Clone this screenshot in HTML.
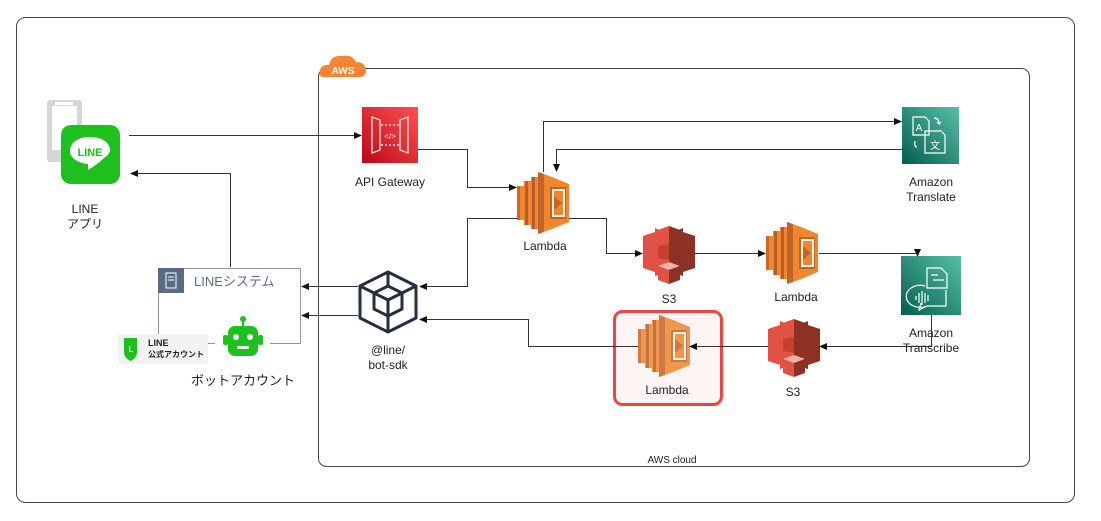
<!DOCTYPE html>
<html><head><meta charset="utf-8"><style>
html,body{margin:0;padding:0;background:#fff;}
svg{display:block;}
text{font-family:"Liberation Sans","Noto Sans CJK JP",sans-serif;font-size:12px;fill:#222;}
</style></head><body>
<svg width="1101" height="521" viewBox="0 0 1101 521" xmlns="http://www.w3.org/2000/svg">
<defs>
<marker id="a" markerWidth="8" markerHeight="8" refX="7" refY="4" orient="auto" markerUnits="userSpaceOnUse"><path d="M0,0.5 L8,4 L0,7.5z" fill="#111"/></marker>
<linearGradient id="gr" x1="0" y1="1" x2="1" y2="0"><stop offset="0" stop-color="#bd0816"/><stop offset="1" stop-color="#ff5252"/></linearGradient>
<linearGradient id="gg" x1="0" y1="1" x2="1" y2="0"><stop offset="0" stop-color="#055f4e"/><stop offset="1" stop-color="#56c0a7"/></linearGradient>
<g id="lam">
<rect x="0" y="14" width="8" height="34" fill="#f0862e"/>
<rect x="0" y="14" width="3" height="34" fill="#c8692b"/>
<rect x="7" y="9" width="7" height="44" fill="#f0862e"/>
<rect x="8" y="9" width="3" height="44" fill="#b35f27"/>
<rect x="14" y="5" width="7" height="52" fill="#f0862e"/>
<rect x="15" y="5" width="3" height="52" fill="#b35f27"/>
<polygon points="21,0 35,5 52,12 52,50 35,57 21,62" fill="#f0862e"/>
<polygon points="21,0 27,2 27,60 21,62" fill="#c0652a"/>
<rect x="33" y="15" width="16" height="32" fill="#c0652a"/>
<rect x="35" y="17" width="13" height="28" fill="#fff3e6"/>
<rect x="37" y="19" width="9" height="24" fill="#f0862e"/>
<polygon points="37,24 45,31 37,38" fill="#c0652a"/>
</g>
<g id="s3">
<polygon points="0,14 12,10 12,50 0,46" fill="#e05243"/>
<polygon points="40,10 52,14 52,46 40,50" fill="#8c3123"/>
<polygon points="12,6 26,12 26,50 12,54" fill="#e05243"/>
<polygon points="26,12 40,6 40,54 26,50" fill="#8c3123"/>
<polygon points="15,8 26,4 26,22 15,18" fill="#e05243"/>
<polygon points="26,4 37,8 37,18 26,22" fill="#8c3123"/>
<polygon points="15,24 26,22 26,38 15,36" fill="#c7402f"/>
<polygon points="26,22 37,24 37,36 26,38" fill="#8c3123"/>
<polygon points="15,44 26,40 37,44 26,48" fill="#f2b0a9"/>
<polygon points="15,44 26,48 26,62 15,58" fill="#e05243"/>
<polygon points="26,48 37,44 37,58 26,62" fill="#8c3123"/>
</g>
</defs>

<rect x="16.5" y="17.5" width="1058" height="485" rx="9" fill="none" stroke="#444" stroke-width="1"/>
<rect x="318.5" y="68.5" width="711" height="398" rx="8" fill="none" stroke="#444" stroke-width="1"/>
<path d="M324,77 Q318,77 320,70 Q322,64 329,65 Q331,55 342,56 Q352,54 356,62 Q365,62 366,70 Q366,77 359,77 Z" fill="#f58534"/>
<text x="343" y="74" text-anchor="middle" style="font-size:10px;fill:#fff;font-weight:bold">AWS</text>
<text x="672" y="463" text-anchor="middle" style="font-size:10px">AWS cloud</text>

<!-- LINE app -->
<rect x="47" y="100" width="35" height="62" rx="3" fill="#d6d6d6"/>
<rect x="52" y="106" width="25" height="44" fill="#fff"/>
<rect x="55" y="102" width="18" height="3" fill="#fff"/>
<rect x="61" y="125" width="59" height="59" rx="10" fill="#1dc01d"/>
<path d="M90,137 C75,137 70,145 70,151 C70,158 78,163 88,164 L88,170 Q98,164 104,158 Q110,154 110,150 C110,144 104,137 90,137Z" fill="#fff"/>
<text x="90" y="156" text-anchor="middle" style="font-size:11px;font-weight:bold;fill:#1dc01d">LINE</text>
<text x="85" y="213" text-anchor="middle">LINE</text>
<text x="85" y="228" text-anchor="middle">アプリ</text>

<!-- LINE system -->
<rect x="158.5" y="268.5" width="142" height="75" fill="#fff" stroke="#8a97ab"/>
<rect x="158" y="268" width="26" height="25" fill="#5a6b86"/>
<rect x="166" y="273" width="10" height="15" fill="none" stroke="#fff" stroke-width="1"/>
<line x1="168" y1="277" x2="174" y2="277" stroke="#fff"/><line x1="168" y1="280" x2="174" y2="280" stroke="#fff"/>
<text x="194" y="286" style="fill:#5a6b86;font-size:13px">LINEシステム</text>
<rect x="118" y="334" width="90" height="30" fill="#f2f2f2"/>
<path d="M124,338 h13 v14 q0,6 -6.5,9 q-6.5,-3 -6.5,-9z" fill="#1dc01d"/>
<text x="131" y="352" text-anchor="middle" style="font-size:8px;fill:#fff;font-weight:bold">L</text>
<text x="148" y="346" style="font-size:9px;font-weight:bold">LINE</text>
<text x="148" y="357" style="font-size:8px;font-weight:bold">公式アカウント</text>
<rect x="215" y="320" width="55" height="40" fill="#fff"/>
<circle cx="243" cy="319" r="3" fill="#1dc01d"/><rect x="242" y="320" width="2" height="6" fill="#1dc01d"/>
<rect x="228" y="326" width="30" height="30" rx="7" fill="#1dc01d"/>
<rect x="223" y="335" width="5" height="10" rx="2" fill="#1dc01d"/><rect x="258" y="335" width="5" height="10" rx="2" fill="#1dc01d"/>
<circle cx="236" cy="337" r="3" fill="#fff"/><circle cx="250" cy="337" r="3" fill="#fff"/>
<rect x="237" y="346" width="12" height="3" rx="1" fill="#fff"/>
<text x="243" y="385" text-anchor="middle" style="font-size:13px">ボットアカウント</text>

<!-- bot-sdk -->
<g fill="none" stroke="#232f3e" stroke-width="3" stroke-linejoin="round">
<polygon points="388,272 416,286 416,318 388,332 360,318 360,286"/>
<polygon points="388,286 402,293 402,309 388,316 374,309 374,293"/>
<line x1="388" y1="272" x2="388" y2="286"/><line x1="416" y1="286" x2="402" y2="293"/>
<line x1="360" y1="286" x2="374" y2="293"/><line x1="388" y1="316" x2="388" y2="332"/>
<line x1="374" y1="293" x2="388" y2="300"/><line x1="402" y1="293" x2="388" y2="300"/><line x1="388" y1="300" x2="388" y2="316"/>
</g>
<text x="388" y="354" text-anchor="middle">@line/</text>
<text x="388" y="369" text-anchor="middle">bot-sdk</text>

<!-- API Gateway -->
<rect x="362" y="107" width="56" height="56" fill="url(#gr)"/>
<g fill="none" stroke="#fff" stroke-width="1.2">
<polygon points="372,117 380,120 380,150 372,153"/>
<polygon points="408,117 400,120 400,150 408,153"/>
<line x1="381" y1="125" x2="399" y2="125" stroke-dasharray="2,2"/>
<line x1="381" y1="145" x2="399" y2="145" stroke-dasharray="2,2"/>
</g>
<text x="390" y="139" text-anchor="middle" style="font-size:8px;fill:#fff">&lt;/&gt;</text>
<text x="390" y="186" text-anchor="middle">API Gateway</text>

<!-- Translate -->
<rect x="902" y="107" width="57" height="57" fill="url(#gg)"/>
<g fill="none" stroke="#fff" stroke-width="1.2">
<path d="M913,117 h12 l4,4 v14 h-16z"/><path d="M925,131 h16 l4,4 v18 h-20z"/>
<path d="M934,118 q5,0 5,6 l-2,-2 M939,124 l2,-2"/>
<path d="M917,147 q-3,0 -2,-6"/>
</g>
<text x="919" y="131" text-anchor="middle" style="font-size:10px;fill:#fff">A</text>
<text x="935" y="149" text-anchor="middle" style="font-size:10px;fill:#fff">文</text>
<text x="931" y="186" text-anchor="middle">Amazon</text>
<text x="931" y="201" text-anchor="middle">Translate</text>

<!-- Transcribe -->
<rect x="901" y="256" width="60" height="59" fill="url(#gg)"/>
<g fill="none" stroke="#fff" stroke-width="1.2">
<path d="M927,268 h14 l6,6 v14 h-20z"/><line x1="931" y1="275" x2="938" y2="275"/><line x1="933" y1="280" x2="944" y2="280"/>
<path d="M946,290 v16 h-19"/>
<path d="M925,286 a14,11 0 1 0 2,20 l-8,4 l2,-7"/>
<path d="M916,296 v4 M919,293 v10 M922,291 v14 M925,293 v10 M928,295 v6"/>
</g>
<text x="931" y="337" text-anchor="middle">Amazon</text>
<text x="931" y="352" text-anchor="middle">Transcribe</text>

<!-- Lambda & S3 -->
<use href="#lam" x="517" y="172"/>
<text x="545" y="250" text-anchor="middle">Lambda</text>
<use href="#s3" x="643" y="222"/>
<text x="669" y="303" text-anchor="middle">S3</text>
<use href="#lam" x="766" y="222"/>
<text x="796" y="301" text-anchor="middle">Lambda</text>
<use href="#s3" x="768" y="315"/>
<text x="793" y="396" text-anchor="middle">S3</text>
<rect x="614.5" y="311.5" width="107" height="93" rx="8" fill="#fdf4f4" stroke="#ef4444" stroke-width="3"/>
<use href="#lam" x="638" y="315" opacity="0.85"/>
<text x="667" y="394" text-anchor="middle">Lambda</text>

<!-- connectors -->
<g fill="none" stroke="#333" stroke-width="1">
<path d="M129,135.5 H361" marker-end="url(#a)"/>
<path d="M230.5,267 V173.5 H131" marker-end="url(#a)"/>
<path d="M358,286.5 H302" marker-end="url(#a)"/>
<path d="M358,315.5 H302" marker-end="url(#a)"/>
<path d="M418,149.5 H467.5 V187.5 H516" marker-end="url(#a)"/>
<path d="M543.5,172 V121.5 H901" marker-end="url(#a)"/>
<path d="M902,149.5 H556.5 V171" marker-end="url(#a)"/>
<path d="M569,218.5 H606.5 V253.5 H642" marker-end="url(#a)"/>
<path d="M517,218.5 H467.5 V286.5 H420" marker-end="url(#a)"/>
<path d="M695,253.5 H765" marker-end="url(#a)"/>
<path d="M819,253.5 H917.5 V256" marker-end="url(#a)"/>
<path d="M931.5,315 V346.5 H820" marker-end="url(#a)"/>
<path d="M768,346.5 H690" marker-end="url(#a)"/>
<path d="M638,346.5 H528.5 V319.5 H420" marker-end="url(#a)"/>
</g>
</svg>
</body></html>
